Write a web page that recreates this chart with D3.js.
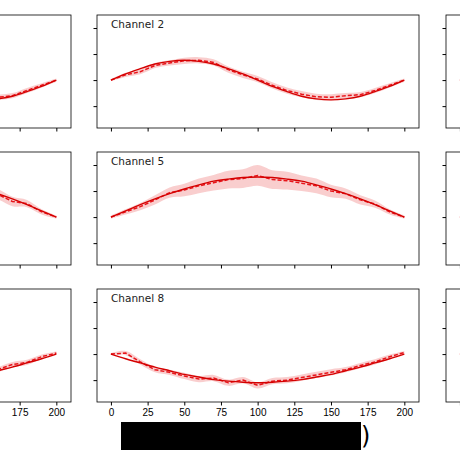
<!DOCTYPE html>
<html><head><meta charset="utf-8">
<script src="https://cdn.jsdelivr.net/npm/d3@7"></script>
<style>body{margin:0;background:#fff}svg{font-family:"DejaVu Sans",sans-serif}</style>
</head><body>
<script>
// x positions of the samples
var xs = [0,10,20,30,40,50,60,70,80,90,100,110,120,130,140,150,160,170,180,190,200];
var xTicks = [0,25,50,75,100,125,150,175,200];
var yTicks = [-0.5,0,0.5,1];

// fitted curve, noisy mean and band half-width per channel
var fit1 = [0,.12,.22,.31,.36,.38,.36,.31,.22,.12,0,-.12,-.22,-.31,-.36,-.38,-.36,-.31,-.22,-.12,0];
var mean1 = [0,.1,.18,.3,.34,.36,.37,.33,.2,.12,.02,-.1,-.2,-.28,-.33,-.35,-.33,-.3,-.2,-.1,0];
var fit2 = [0,.12,.22,.31,.36,.38,.36,.31,.22,.12,0,-.12,-.22,-.31,-.36,-.38,-.36,-.31,-.22,-.12,0];
var mean2 = [0,.1,.16,.28,.33,.37,.38,.34,.2,.1,.02,-.1,-.2,-.27,-.32,-.33,-.3,-.28,-.2,-.1,0];
var fit4 = [0,.12,.24,.35,.45,.54,.62,.69,.73,.76,.77,.76,.73,.69,.62,.54,.45,.35,.24,.12,0];
var mean4 = [0,.1,.22,.33,.46,.52,.6,.67,.7,.75,.78,.74,.7,.66,.6,.52,.44,.3,.26,.1,0];
var fit5 = [0,.12,.24,.35,.45,.54,.62,.69,.73,.76,.77,.76,.73,.69,.62,.54,.45,.35,.24,.12,0];
var mean5 = [0,.1,.2,.33,.47,.52,.6,.66,.72,.74,.8,.72,.7,.65,.6,.5,.45,.33,.25,.1,0];
var fit7 = [0,-.09,-.17,-.25,-.32,-.39,-.44,-.49,-.52,-.54,-.55,-.54,-.52,-.49,-.44,-.39,-.32,-.25,-.17,-.09,0];
var mean7 = [0,-.05,-.16,-.28,-.33,-.4,-.46,-.47,-.53,-.5,-.57,-.52,-.5,-.46,-.41,-.36,-.3,-.2,-.16,-.05,.02];
var fit8 = [0,-.09,-.17,-.25,-.32,-.39,-.44,-.49,-.52,-.54,-.55,-.54,-.52,-.49,-.44,-.39,-.32,-.25,-.17,-.09,0];
var mean8 = [0,.02,-.15,-.3,-.35,-.42,-.48,-.46,-.55,-.5,-.6,-.52,-.5,-.45,-.4,-.35,-.3,-.22,-.15,-.05,.03];
var flat = [0,0,0,0,0,0,0,0,0,0,0,0,0,0,0,0,0,0,0,0,0];
var bandSmall = [.02,.04,.05,.05,.05,.06,.06,.06,.06,.06,.06,.06,.06,.06,.06,.06,.05,.05,.05,.04,.03];
var bandLarge = [.03,.05,.07,.09,.1,.12,.14,.15,.17,.18,.2,.18,.17,.15,.14,.12,.1,.09,.07,.05,.03];

var channels = [
  {name:"Channel 1", fit:fit1, mean:mean1, band:bandSmall},
  {name:"Channel 2", fit:fit2, mean:mean2, band:bandSmall},
  {name:"Channel 3", fit:flat, mean:flat, band:bandSmall},
  {name:"Channel 4", fit:fit4, mean:mean4, band:bandLarge},
  {name:"Channel 5", fit:fit5, mean:mean5, band:bandLarge},
  {name:"Channel 6", fit:flat, mean:flat, band:bandSmall},
  {name:"Channel 7", fit:fit7, mean:mean7, band:bandSmall},
  {name:"Channel 8", fit:fit8, mean:mean8, band:bandSmall},
  {name:"Channel 9", fit:flat, mean:flat, band:bandSmall}
];

var svg = d3.select("body").append("svg").attr("width",460).attr("height",460);
var colLeft = [-251, 97, 446];
var rowTop = [15, 152, 289];
var pw = 322, ph = 113;

var x = d3.scaleLinear().domain([-9.5,210]).range([0,pw]);
var y = d3.scaleLinear().domain([-0.92,1.25]).range([ph,0]);

channels.forEach(function(c,i){
  var r = Math.floor(i/3), k = i%3;
  var g = svg.append("g").attr("transform","translate("+colLeft[k]+","+rowTop[r]+")");
  g.append("clipPath").attr("id","clip"+i).append("rect").attr("width",pw).attr("height",ph);
  var body = g.append("g").attr("clip-path","url(#clip"+i+")");

  var area = d3.area().x(function(d,j){return x(xs[j]);})
    .y0(function(d,j){return y(c.mean[j]-c.band[j]);})
    .y1(function(d,j){return y(c.mean[j]+c.band[j]);})
    .curve(d3.curveCatmullRom);
  body.append("path").datum(xs).attr("d",area).attr("fill","#f7b9b9").attr("opacity",0.7);

  var lineMean = d3.line().x(function(d,j){return x(xs[j]);}).y(function(d){return y(d);});
  body.append("path").datum(c.mean).attr("d",lineMean)
    .attr("fill","none").attr("stroke","#e8141a").attr("stroke-width",1.5).attr("stroke-dasharray","4,2");
  var lineFit = d3.line().x(function(d,j){return x(xs[j]);}).y(function(d){return y(d);}).curve(d3.curveNatural);
  body.append("path").datum(c.fit).attr("d",lineFit)
    .attr("fill","none").attr("stroke","#d40000").attr("stroke-width",1.4);

  var xa = d3.axisBottom(x).tickValues(xTicks).tickSize(3.5).tickPadding(3);
  if (r < 2) xa.tickFormat("");
  g.append("g").attr("transform","translate(0,"+ph+")").call(xa)
    .call(function(a){
      a.select(".domain").remove();
      a.selectAll("text").attr("font-size",10).attr("fill","#000");
      // drop labels that fall outside the window
      a.selectAll(".tick").filter(function(t){var p=colLeft[k]+x(t);return p<8||p>452;}).select("text").remove();
    });
  g.append("g").call(d3.axisLeft(y).tickValues(yTicks).tickSize(3.5).tickFormat(""))
    .call(function(a){a.select(".domain").remove();});

  g.append("rect").attr("width",pw).attr("height",ph).attr("fill","none").attr("stroke","#000").attr("stroke-width",0.8);
  if (k === 1) g.append("text").attr("x",14).attr("y",13).attr("font-size",10.5).attr("fill","#222").text(c.name);
});

// redacted x-axis label
svg.append("rect").attr("x",121).attr("y",422).attr("width",240).attr("height",28).attr("fill","#000");
svg.append("text").attr("x",361).attr("y",444).attr("font-size",24).text(")");
</script>
</body></html>
